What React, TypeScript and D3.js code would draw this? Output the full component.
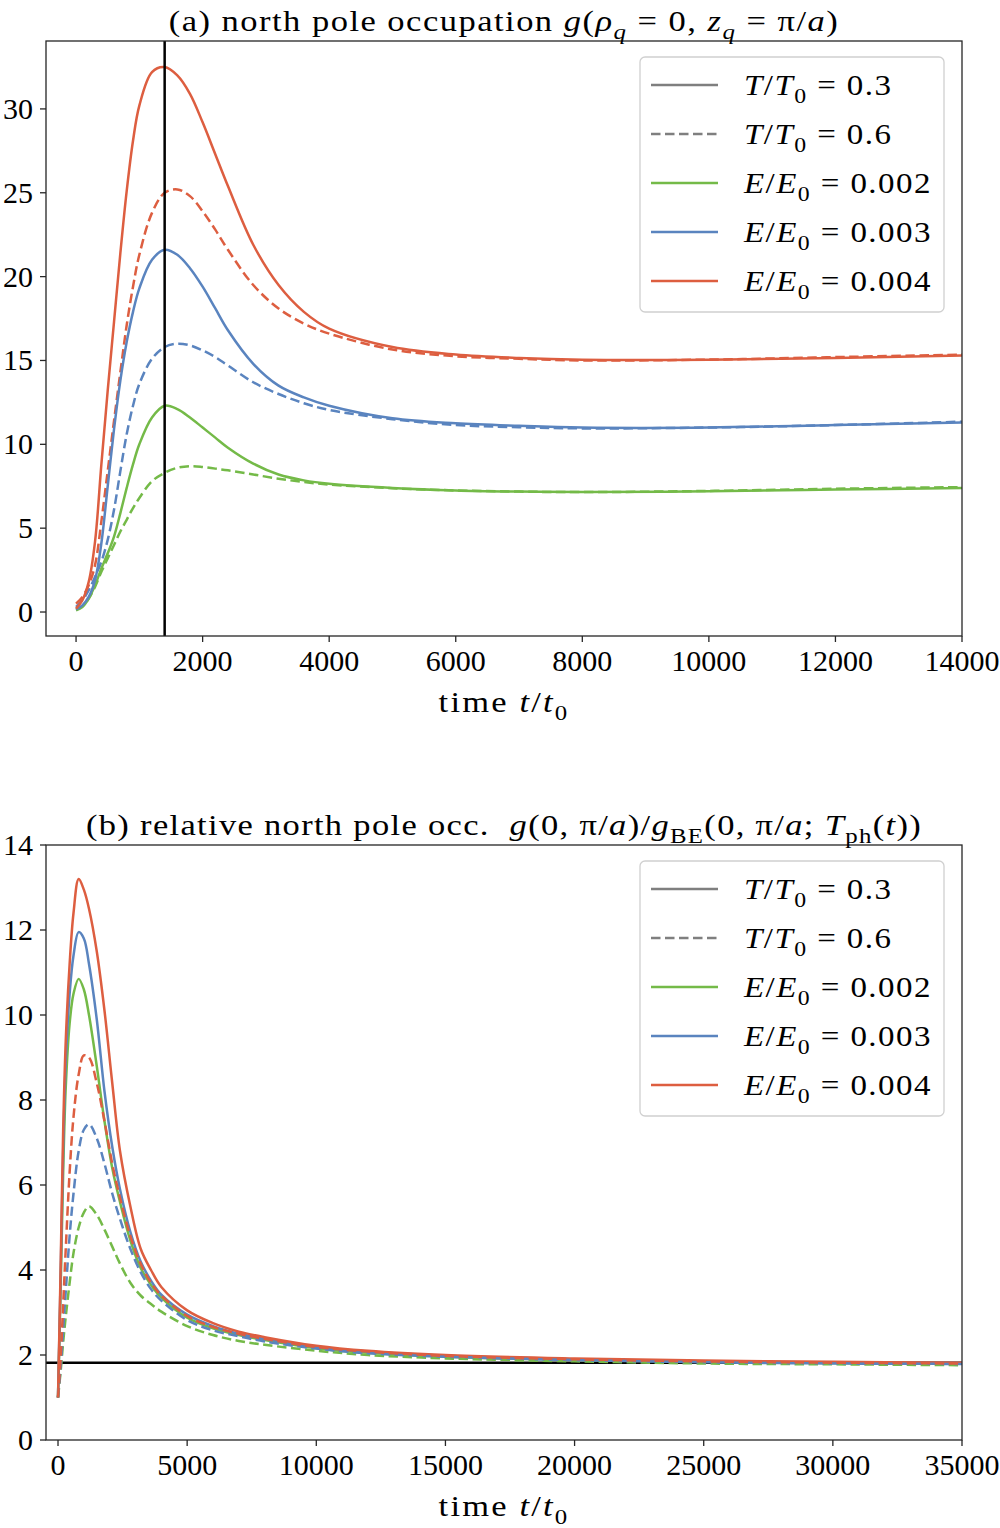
import * as d3 from 'd3';

// ---- panel (a): north pole occupation ----
const timesA = [0, 100, 200, 300, 400, 500, 600, 700, 800, 900, 1000, 1200, 1400, 1600, 1800, 2000, 2200, 2400, 2800, 3200, 3600, 4000, 5000, 6000, 7000, 8000, 10000, 12000, 14000];
const aRedSolid = [0.2, 0.7, 1.8, 4.2, 8.8, 13.2, 17.3, 21.4, 25.1, 28.1, 30.2, 32.2, 32.5, 32.0, 30.9, 29.2, 27.3, 25.4, 21.9, 19.5, 17.9, 16.9, 15.8, 15.35, 15.15, 15.05, 15.05, 15.15, 15.3];
const aRedDashed = [0.5, 0.9, 1.6, 2.8, 5.4, 8.4, 11.4, 14.3, 17.1, 19.4, 21.3, 23.8, 25.0, 25.2, 24.8, 23.9, 22.8, 21.6, 19.5, 18.1, 17.2, 16.6, 15.65, 15.25, 15.1, 15.0, 15.05, 15.2, 15.35];
const aBlueSolid = [0.15, 0.4, 0.9, 1.9, 4.1, 7.5, 10.9, 13.8, 16.1, 17.9, 19.3, 21.0, 21.6, 21.3, 20.5, 19.4, 18.1, 16.8, 14.8, 13.5, 12.8, 12.3, 11.55, 11.25, 11.1, 11.0, 11.0, 11.15, 11.3];
const aBlueDashed = [0.3, 0.7, 1.3, 2.1, 3.0, 4.3, 6.1, 8.4, 10.6, 12.3, 13.6, 15.1, 15.8, 16.0, 15.9, 15.6, 15.2, 14.7, 13.7, 13.0, 12.45, 12.05, 11.5, 11.15, 11.02, 10.95, 11.0, 11.15, 11.35];
const aGreenSolid = [0.1, 0.3, 0.8, 1.6, 2.6, 3.5, 4.5, 5.9, 7.4, 8.8, 10.0, 11.6, 12.3, 12.1, 11.6, 11.0, 10.4, 9.8, 8.85, 8.2, 7.85, 7.65, 7.4, 7.25, 7.18, 7.15, 7.2, 7.3, 7.4];
const aGreenDashed = [0.15, 0.35, 0.8, 1.5, 2.4, 3.2, 4.0, 4.8, 5.5, 6.2, 6.8, 7.8, 8.3, 8.6, 8.7, 8.65, 8.55, 8.45, 8.2, 7.95, 7.75, 7.6, 7.38, 7.25, 7.18, 7.15, 7.22, 7.35, 7.45];
const markerA = 1400;

// ---- panel (b): relative north pole occupation ----
const timesB = [0, 100, 200, 300, 450, 600, 800, 1000, 1200, 1500, 1800, 2100, 2400, 2800, 3200, 3600, 4000, 5000, 6000, 7000, 8000, 10000, 12000, 15000, 20000, 25000, 30000, 35000];
const bRedSolid = [1.0, 4.0, 7.3, 9.4, 11.2, 12.4, 13.2, 12.95, 12.5, 11.5, 10.1, 8.4, 6.8, 5.5, 4.5, 4.0, 3.6, 3.05, 2.75, 2.55, 2.42, 2.22, 2.1, 2.0, 1.92, 1.87, 1.84, 1.82];
const bRedDashed = [1.0, 1.9, 3.2, 4.5, 6.3, 7.6, 8.6, 9.05, 9.0, 8.4, 7.5, 6.5, 5.7, 4.8, 4.15, 3.7, 3.4, 2.92, 2.66, 2.5, 2.38, 2.19, 2.08, 1.98, 1.9, 1.85, 1.82, 1.8];
const bBlueSolid = [1.0, 3.8, 6.8, 8.9, 10.5, 11.4, 11.95, 11.8, 11.2, 9.9, 8.2, 6.9, 5.9, 4.9, 4.2, 3.75, 3.42, 2.95, 2.68, 2.5, 2.38, 2.19, 2.08, 1.98, 1.9, 1.85, 1.82, 1.81];
const bBlueDashed = [1.0, 1.7, 2.6, 3.5, 4.8, 5.8, 6.8, 7.3, 7.43, 7.1, 6.5, 5.8, 5.2, 4.5, 3.95, 3.55, 3.28, 2.82, 2.58, 2.44, 2.32, 2.15, 2.04, 1.96, 1.88, 1.83, 1.8, 1.79];
const bGreenSolid = [1.0, 3.5, 6.3, 8.3, 9.8, 10.5, 10.85, 10.6, 10.0, 8.8, 7.5, 6.4, 5.6, 4.7, 4.05, 3.65, 3.35, 2.88, 2.63, 2.47, 2.35, 2.16, 2.05, 1.96, 1.88, 1.84, 1.81, 1.8];
const bGreenDashed = [1.0, 1.6, 2.3, 2.9, 3.7, 4.4, 5.0, 5.35, 5.5, 5.3, 4.95, 4.55, 4.15, 3.7, 3.4, 3.2, 3.02, 2.68, 2.47, 2.33, 2.24, 2.1, 2.0, 1.92, 1.85, 1.8, 1.78, 1.76];
const markerB = 1.82;

const ticksAX = [0, 2000, 4000, 6000, 8000, 10000, 12000, 14000];
const ticksAY = [0, 5, 10, 15, 20, 25, 30];
const ticksBX = [0, 5000, 10000, 15000, 20000, 25000, 30000, 35000];
const ticksBY = [0, 2, 4, 6, 8, 10, 12, 14];

const RED = '#dd5e40';
const BLUE = '#5a84bf';
const GREEN = '#74ba48';
const GRAY = '#7f7f7f';
const FONT = '"Liberation Serif", "DejaVu Serif", serif';
const FS = 30;

type Part = { t: string; i?: boolean; sub?: boolean };

// renders a small piece of "latex": italic parts and subscripts.
// stretch widens the glyphs a little, the latex font is wider than Times
const MathText = ({ parts, x, y, anchor = 'start', size = FS, spacing = 0, stretch = 1 }: { parts: Part[]; x: number; y: number; anchor?: string; size?: number; spacing?: number; stretch?: number }) => {
    let shifted = false;
    return (
        <g transform={`translate(${x},${y}) scale(${stretch},1)`}>
            <text x={0} y={0} textAnchor={anchor} fontFamily={FONT} fontSize={size} fill="#000" letterSpacing={spacing} style={{ whiteSpace: 'pre' }}>
                {parts.map((p, k) => {
                    let dy = 0;
                    if (p.sub && !shifted) { dy = size * 0.25; shifted = true; }
                    else if (!p.sub && shifted) { dy = -size * 0.25; shifted = false; }
                    return (
                        <tspan key={k} dy={dy} fontStyle={p.i ? 'italic' : 'normal'} fontSize={p.sub ? size * 0.72 : size}>
                            {p.t}
                        </tspan>
                    );
                })}
            </text>
        </g>
    );
};

const legendItems: { parts: Part[]; color: string; dashed: boolean }[] = [
    { parts: [{ t: 'T', i: true }, { t: '/' }, { t: 'T', i: true }, { t: '0', sub: true }, { t: ' = 0.3' }], color: GRAY, dashed: false },
    { parts: [{ t: 'T', i: true }, { t: '/' }, { t: 'T', i: true }, { t: '0', sub: true }, { t: ' = 0.6' }], color: GRAY, dashed: true },
    { parts: [{ t: 'E', i: true }, { t: '/' }, { t: 'E', i: true }, { t: '0', sub: true }, { t: ' = 0.002' }], color: GREEN, dashed: false },
    { parts: [{ t: 'E', i: true }, { t: '/' }, { t: 'E', i: true }, { t: '0', sub: true }, { t: ' = 0.003' }], color: BLUE, dashed: false },
    { parts: [{ t: 'E', i: true }, { t: '/' }, { t: 'E', i: true }, { t: '0', sub: true }, { t: ' = 0.004' }], color: RED, dashed: false },
];

const xLabel: Part[] = [{ t: 'time ' }, { t: 't', i: true }, { t: '/' }, { t: 't', i: true }, { t: '0', sub: true }];

const titleA: Part[] = [
    { t: '(a) north pole occupation ' }, { t: 'g', i: true }, { t: '(' }, { t: 'ρ', i: true }, { t: 'q', i: true, sub: true },
    { t: ' = 0, ' }, { t: 'z', i: true }, { t: 'q', i: true, sub: true }, { t: ' = π/' }, { t: 'a', i: true }, { t: ')' },
];
const titleB: Part[] = [
    { t: '(b) relative north pole occ.  ' }, { t: 'g', i: true }, { t: '(0, π/' }, { t: 'a', i: true }, { t: ')/' },
    { t: 'g', i: true }, { t: 'BE', sub: true }, { t: '(0, π/' }, { t: 'a', i: true }, { t: '; ' }, { t: 'T', i: true },
    { t: 'ph', sub: true }, { t: '(' }, { t: 't', i: true }, { t: '))' },
];

const left = 46;
const right = 962;

interface Series { values: number[]; color: string; dashed: boolean }

interface PanelProps {
    top: number;
    bottom: number;
    times: number[];
    series: Series[];
    xDomain: [number, number];
    yDomain: [number, number];
    xTicks: number[];
    yTicks: number[];
    title: Part[];
    titleSpacing: number;
    vLine?: number;
    hLine?: number;
}

const Panel = ({ top, bottom, times, series, xDomain, yDomain, xTicks, yTicks, title, titleSpacing, vLine, hLine }: PanelProps) => {
    const x = d3.scaleLinear().domain(xDomain).range([left, right]);
    const y = d3.scaleLinear().domain(yDomain).range([bottom, top]);
    const line = d3
        .line<number>()
        .x((_, i) => x(times[i]))
        .y(d => y(d))
        .curve(d3.curveCatmullRom.alpha(0.5));
    const mid = (left + right) / 2;
    const legTop = top + 16;

    return (
        <g>
            <defs>
                <clipPath id={`clip${top}`}>
                    <rect x={left} y={top} width={right - left} height={bottom - top} />
                </clipPath>
            </defs>
            <g clipPath={`url(#clip${top})`}>
                {hLine !== undefined && (
                    <line x1={left} x2={right} y1={y(hLine)} y2={y(hLine)} stroke="#000" strokeWidth={2.5} />
                )}
                {series.map((s, k) => (
                    <path
                        key={k}
                        d={line(s.values) ?? ''}
                        fill="none"
                        stroke={s.color}
                        strokeWidth={2.5}
                        strokeDasharray={s.dashed ? '9.5,4.5' : undefined}
                    />
                ))}
                {vLine !== undefined && (
                    <line x1={x(vLine)} x2={x(vLine)} y1={top} y2={bottom} stroke="#000" strokeWidth={2.5} />
                )}
            </g>
            <rect x={left} y={top} width={right - left} height={bottom - top} fill="none" stroke="#262626" strokeWidth={1.3} />
            {xTicks.map(t => (
                <g key={t}>
                    <line x1={x(t)} x2={x(t)} y1={bottom} y2={bottom + 6} stroke="#262626" strokeWidth={1.3} />
                    <text x={x(t)} y={bottom + 35} textAnchor="middle" fontFamily={FONT} fontSize={FS}>{t}</text>
                </g>
            ))}
            {yTicks.map(t => (
                <g key={t}>
                    <line x1={left - 6} x2={left} y1={y(t)} y2={y(t)} stroke="#262626" strokeWidth={1.3} />
                    <text x={left - 13} y={y(t) + 10} textAnchor="end" fontFamily={FONT} fontSize={FS}>{t}</text>
                </g>
            ))}
            <MathText parts={title} x={mid} y={top - 10} anchor="middle" spacing={titleSpacing} stretch={1.15} />
            <MathText parts={xLabel} x={mid} y={bottom + 76} anchor="middle" spacing={1.9} stretch={1.15} />
            <rect x={640} y={legTop} width={304} height={255} rx={5} fill="#fff" fillOpacity={0.8} stroke="#d0d0d0" strokeWidth={1.3} />
            {legendItems.map((it, k) => {
                const cy = legTop + 28 + k * 49;
                return (
                    <g key={k}>
                        <line x1={651} x2={718} y1={cy} y2={cy} stroke={it.color} strokeWidth={2.5} strokeDasharray={it.dashed ? '9.5,4.5' : undefined} />
                        <MathText parts={it.parts} x={744} y={cy + 10} spacing={1.3} stretch={1.1} />
                    </g>
                );
            })}
        </g>
    );
};

const seriesA: Series[] = [
    { values: aGreenDashed, color: GREEN, dashed: true },
    { values: aBlueDashed, color: BLUE, dashed: true },
    { values: aRedDashed, color: RED, dashed: true },
    { values: aGreenSolid, color: GREEN, dashed: false },
    { values: aBlueSolid, color: BLUE, dashed: false },
    { values: aRedSolid, color: RED, dashed: false },
];
const seriesB: Series[] = [
    { values: bGreenSolid, color: GREEN, dashed: false },
    { values: bBlueSolid, color: BLUE, dashed: false },
    { values: bRedSolid, color: RED, dashed: false },
    { values: bGreenDashed, color: GREEN, dashed: true },
    { values: bBlueDashed, color: BLUE, dashed: true },
    { values: bRedDashed, color: RED, dashed: true },
];

const App = () => (
    <svg width={1000} height={1528} style={{ position: 'absolute', left: 0, top: 0, background: '#fff' }}>
        <Panel
            top={41}
            bottom={636}
            times={timesA}
            series={seriesA}
            xDomain={[-475, 14000]}
            yDomain={[-1.43, 34.05]}
            xTicks={ticksAX}
            yTicks={ticksAY}
            title={titleA}
            titleSpacing={1.3}
            vLine={markerA}
        />
        <Panel
            top={845}
            bottom={1440}
            times={timesB}
            series={seriesB}
            xDomain={[-465, 35000]}
            yDomain={[0, 14]}
            xTicks={ticksBX}
            yTicks={ticksBY}
            title={titleB}
            titleSpacing={1.15}
            hLine={markerB}
        />
    </svg>
);

export default App;
